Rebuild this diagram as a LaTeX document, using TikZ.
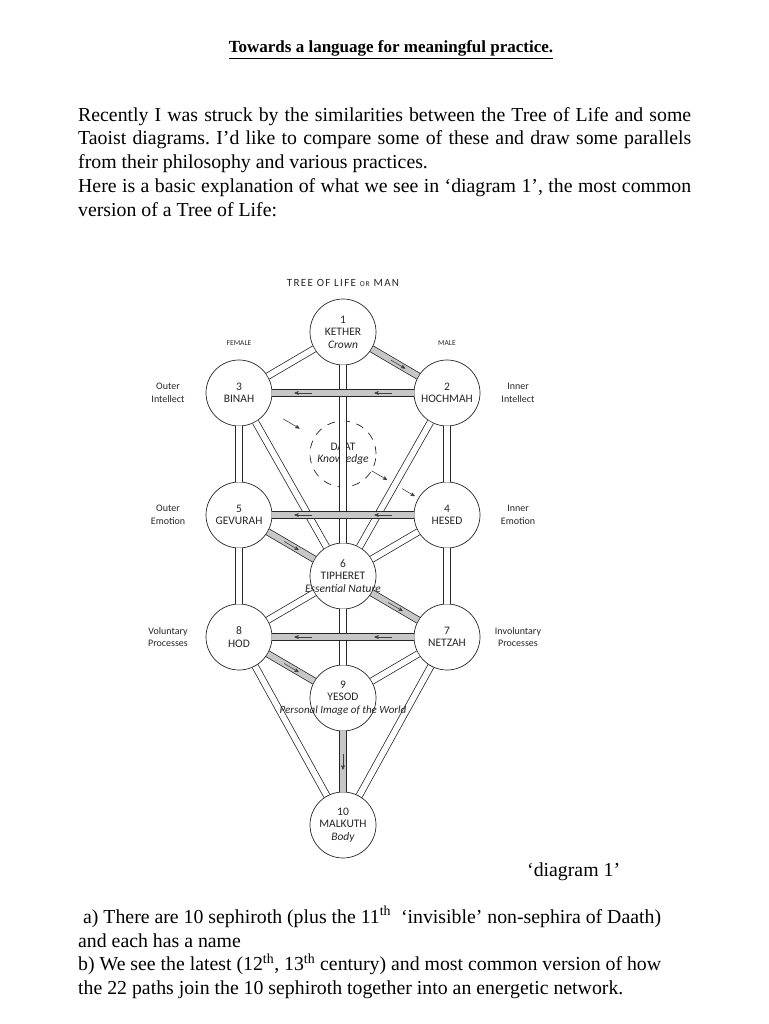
\documentclass[tikz,border=0pt]{standalone}
\usepackage{fontspec}
\setmainfont{Liberation Serif}
\newfontfamily\gill{Carlito}
\newfontfamily\gillwide{Carlito}[LetterSpace=12]
\usetikzlibrary{shapes,arrows,positioning}
\pgfdeclarelayer{background}
\pgfsetlayers{background,main}
\setlength{\parindent}{0pt}
\frenchspacing

\begin{document}
\begin{tikzpicture}[x=1pt,y=-1pt,>=stealth',node distance=61pt and 104pt,on grid,
  main node/.style={draw=black!85,line width=.7pt,circle,fill=white,minimum size=66pt,inner sep=0pt,align=center,text=black!85,font=\gill\fontsize{11.5}{12.5}\selectfont},
  ghost node/.style={main node,fill=none,dash pattern=on 8pt off 7pt},
  side label/.style={align=center,text=black!85,font=\gill\fontsize{10}{12.5}\selectfont},
  plain path/.style={draw=black!85,line width=.75pt,double=white,double distance=5.8pt},
  flash path/.style={plain path,double=black!22},
  flash arrow/.style={->,line width=.6pt,draw=black!75},
  body/.style={inner sep=0pt,font=\fontsize{19.8}{23.8}\selectfont}]
  \useasboundingbox (0,0) rectangle (768,1024);

  % page text
  \node[body,anchor=base,font=\bfseries\fontsize{17}{20}\selectfont] (title) at (391,53) {\underline{Towards a language for meaningful practice.}};
  \node[body,anchor=north west,text width=613pt,align=justify] (intro) at (78,107) {Recently I was struck by the similarities between the Tree of Life and some\linebreak Taoist diagrams. I’d like to compare some of these and draw some parallels\linebreak from their philosophy and various practices.\par Here is a basic explanation of what we see in ‘diagram 1’, the most common\linebreak version of a Tree of Life:};
  \node[body,anchor=base west] (caption) at (527,876) {‘diagram 1’};
  \node[body,anchor=north west,align=left] (notes) at (78,906) {\ a) There are 10 sephiroth (plus the 11\textsuperscript{th}\ \ ‘invisible’ non-sephira of Daath)\\and each has a name\\b) We see the latest (12\textsuperscript{th}, 13\textsuperscript{th} century) and most common version of how\\the 22 paths join the 10 sephiroth together into an energetic network.};

  % sephiroth
  \node[main node] (1) at (343,332) {1\\KETHER\\\textit{Crown}};
  \node[main node,below right=of 1] (2) {2\\HOCHMAH};
  \node[main node,below left=of 1] (3) {3\\BINAH};
  \node[ghost node,below right=of 3] (11) {DAAT\\\textit{Knowledge}};
  \node[main node,below right=of 11] (4) {4\\HESED};
  \node[main node,below left=of 11] (5) {5\\GEVURAH};
  \node[main node,below right=of 5] (6) {6\\TIPHERET\\\makebox[0pt]{\textit{Essential Nature}}};
  \node[main node,below right=of 6] (7) {7\\NETZAH};
  \node[main node,below left=of 6] (8) {8\\HOD};
  \node[main node,below right=of 8] (9) {9\\YESOD\\\makebox[0pt]{\fontsize{11}{12.5}\selectfont\textit{Personal Image of the World}}};
  \node[main node,below=127pt of 9] (10) {10\\MALKUTH\\\textit{Body}};

  % labels
  \node[above=49pt of 1,text=black!85,font=\gillwide\fontsize{11}{13}\selectfont] (tree) {TREE OF LIFE {\fontsize{7.5}{9}\selectfont OR} MAN};
  \node[above=50pt of 3,text=black!85,font=\gill\fontsize{7.5}{9}\selectfont] (female) {FEMALE};
  \node[above=50pt of 2,text=black!85,font=\gill\fontsize{7.5}{9}\selectfont] (male) {MALE};
  \node[side label,left=71pt of 3] (oi) {Outer\\Intellect};
  \node[side label,right=71pt of 2] (ii) {Inner\\Intellect};
  \node[side label,left=71pt of 5] (oe) {Outer\\Emotion};
  \node[side label,right=71pt of 4] (ie) {Inner\\Emotion};
  \node[side label,left=71pt of 8] (vp) {Voluntary\\Processes};
  \node[side label,right=71pt of 7] (ip) {Involuntary\\Processes};

  % the 22 paths
  \begin{pgfonlayer}{background}
  \path
  (8) edge[plain path] (10)
  (7) edge[plain path] (10);
  \end{pgfonlayer}
  \path
  (1) edge[plain path] (3)
  (3) edge[plain path] (6)
  (2) edge[plain path] (6)
  (4) edge[plain path] (6)
  (8) edge[plain path] (6)
  (9) edge[plain path] (7)
  (3) edge[plain path] (5)
  (5) edge[plain path] (8)
  (2) edge[plain path] (4)
  (4) edge[plain path] (7)
  (1) edge[flash path] (2)
  (5) edge[flash path] (6)
  (6) edge[flash path] (7)
  (8) edge[flash path] (9)
  (9) edge[flash path] (10)
  (1) edge[plain path] (6)
  (6) edge[plain path] (9)
  (2) edge[flash path] (3)
  (4) edge[flash path] (5)
  (7) edge[flash path] (8);

  % lightning flash
  \draw[flash arrow,shorten <=22pt,shorten >=15pt] (1) -- (2);
  \draw[flash arrow,shorten <=22pt,shorten >=102pt] (2) -- (3);
  \draw[flash arrow,shorten <=102pt,shorten >=22pt] (2) -- (3);
  \draw[flash arrow,shorten <=18pt,shorten >=17pt] (3) -- (11);
  \draw[flash arrow,shorten >=36pt] (11) -- (4);
  \draw[flash arrow,shorten <=35pt,shorten >=4pt] (11) -- (4);
  \draw[flash arrow,shorten <=22pt,shorten >=102pt] (4) -- (5);
  \draw[flash arrow,shorten <=102pt,shorten >=22pt] (4) -- (5);
  \draw[flash arrow,shorten <=19pt,shorten >=18pt] (5) -- (6);
  \draw[flash arrow,shorten <=19pt,shorten >=18pt] (6) -- (7);
  \draw[flash arrow,shorten <=22pt,shorten >=102pt] (7) -- (8);
  \draw[flash arrow,shorten <=102pt,shorten >=22pt] (7) -- (8);
  \draw[flash arrow,shorten <=19pt,shorten >=18pt] (8) -- (9);
  \draw[flash arrow,shorten <=23pt,shorten >=22pt] (9) -- (10);
\end{tikzpicture}
\end{document}
